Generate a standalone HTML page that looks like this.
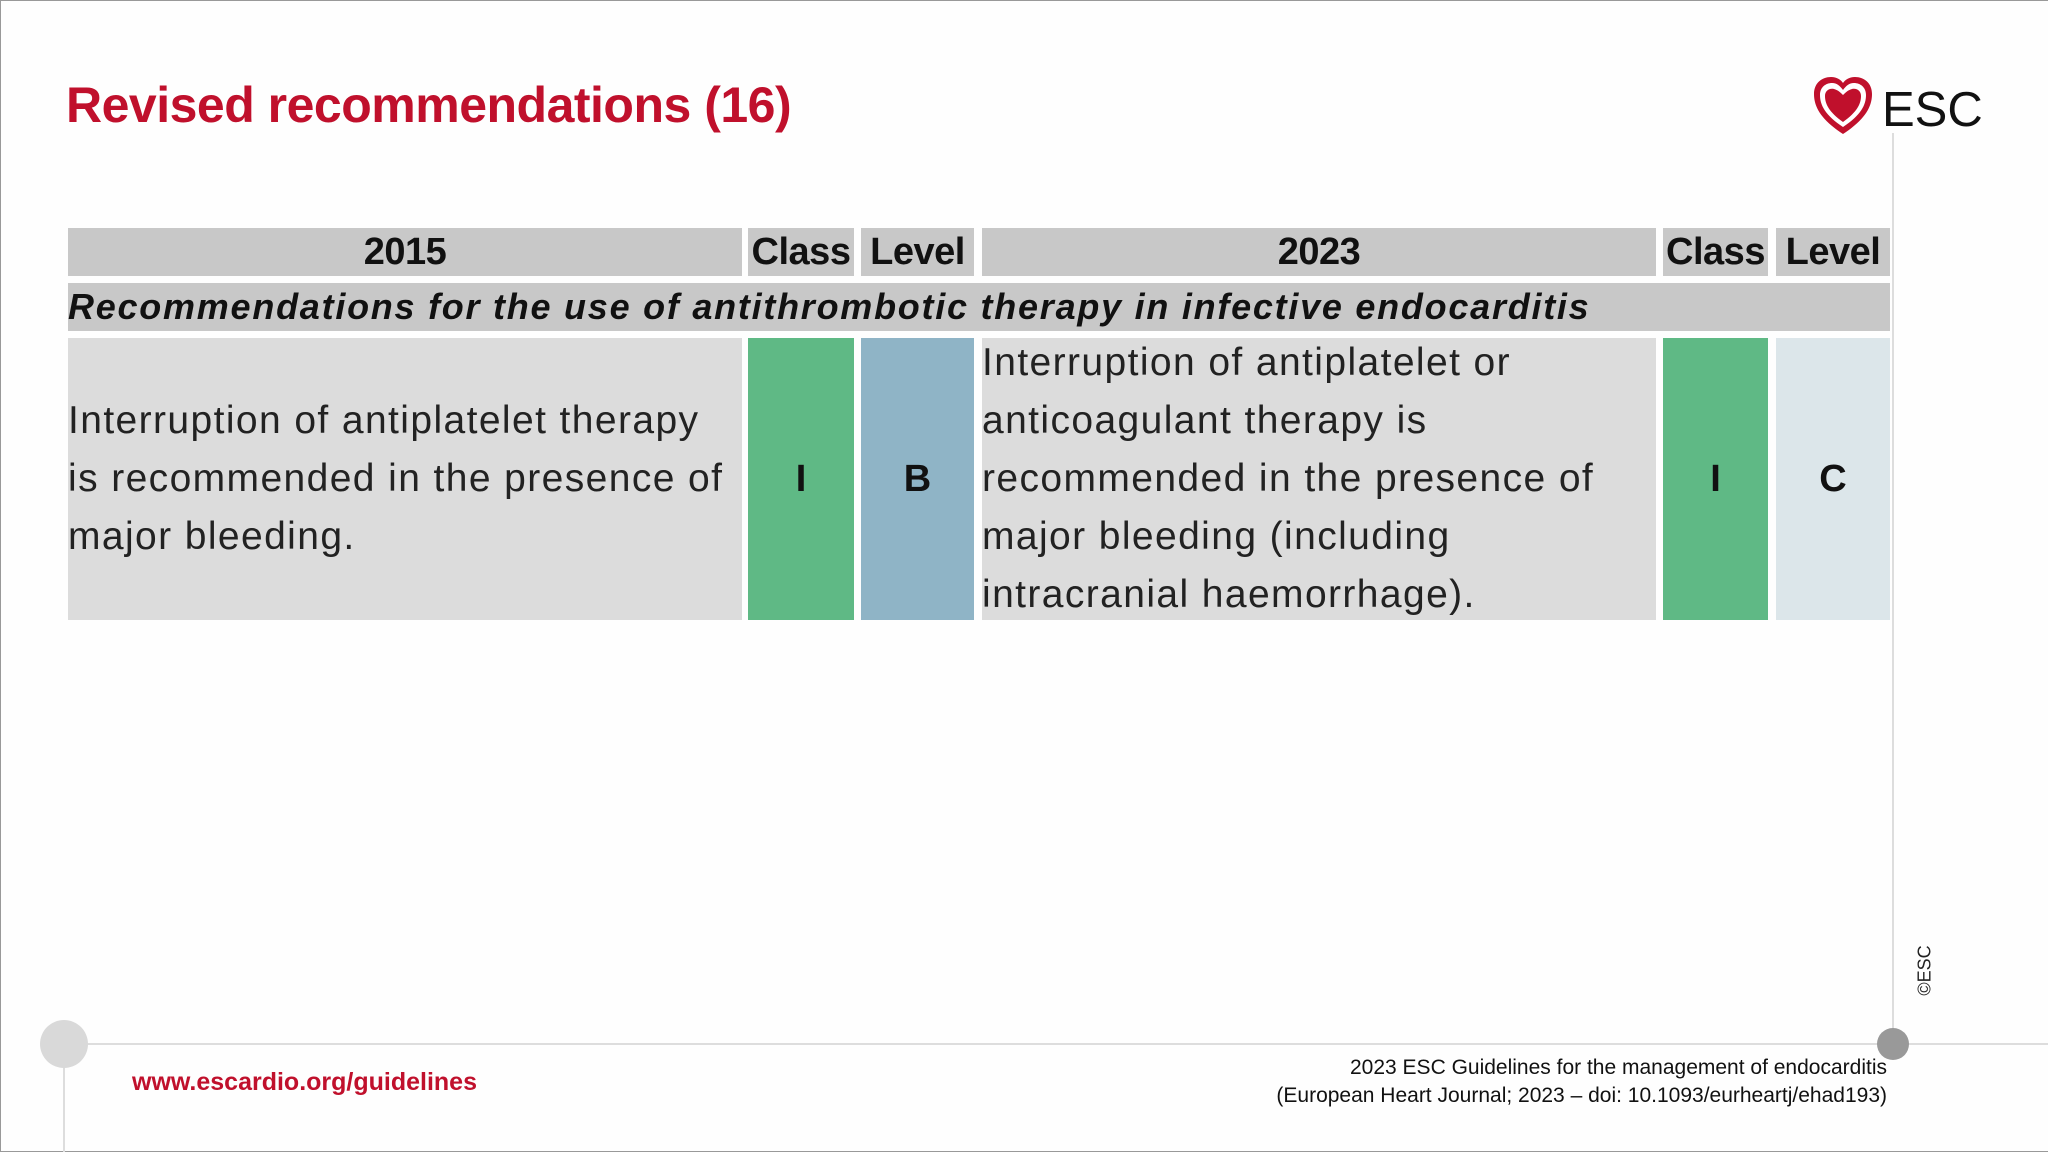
<!DOCTYPE html>
<html><head><meta charset="utf-8">
<style>
*{margin:0;padding:0;box-sizing:border-box}
body{width:2048px;height:1152px;background:#fefefe;position:relative;overflow:hidden;font-family:"Liberation Sans",sans-serif;}
.a{position:absolute}
.c{display:flex;align-items:center;justify-content:center;color:#111;font-weight:bold}
.hd{background:#c8c8c8;font-size:38px;letter-spacing:-0.5px}
.bt{background:#dcdcdc;font-size:39px;line-height:58px;color:#222;letter-spacing:1.4px;white-space:nowrap}
</style></head><body>
<div class="a" style="left:0;top:0;width:2048px;height:1152px;border:1px solid #999;border-right:none"></div>
<div class="a" style="left:66px;top:76px;font-size:50px;font-weight:bold;color:#c0102c;letter-spacing:-0.5px">Revised recommendations (16)</div>
<div class="a" style="left:1810px;top:74px;width:170px;height:66px">
<svg width="66" height="66" viewBox="0 0 66 66" style="position:absolute;left:0;top:0"><path d="M33 60 C10 45 4 32 4 20 C4 9 12 3 21 3 C27 3 31 6 33 9 C35 6 39 3 45 3 C54 3 62 9 62 20 C62 32 56 45 33 60Z" fill="#c0102c"/><path d="M33 53 C15 41 10 31 10 21 C10 13 16 9 22 9 C27 9 30 12 33 16 C36 12 39 9 44 9 C50 9 56 13 56 21 C56 31 51 41 33 53Z" fill="#fff"/><path d="M33 48 C19 38 15 30 15 22 C15 17 19 14 24 15 C28 16 31 19 33 21 C35 19 38 16 42 15 C47 14 51 17 51 22 C51 30 47 38 33 48Z" fill="#c0102c"/></svg>
<div class="a" style="left:72px;top:8px;font-size:49px;color:#111">ESC</div></div>
<div class="a" style="left:1892px;top:133px;width:2px;height:911px;background:#ddd"></div>
<div class="a" style="left:64px;top:1043px;width:1984px;height:2px;background:#ddd"></div>
<div class="a" style="left:63px;top:1044px;width:2px;height:108px;background:#ddd"></div>
<div class="a" style="left:40px;top:1020px;width:48px;height:48px;border-radius:50%;background:#d9d9d9"></div>
<div class="a" style="left:1877px;top:1028px;width:32px;height:32px;border-radius:50%;background:#999"></div>

<div class="a c hd" style="left:68px;top:228px;width:674px;height:48px">2015</div>
<div class="a c hd" style="left:748px;top:228px;width:106px;height:48px">Class</div>
<div class="a c hd" style="left:861px;top:228px;width:113px;height:48px">Level</div>
<div class="a c hd" style="left:982px;top:228px;width:674px;height:48px">2023</div>
<div class="a c hd" style="left:1663px;top:228px;width:105px;height:48px">Class</div>
<div class="a c hd" style="left:1776px;top:228px;width:114px;height:48px">Level</div>
<div class="a hd" style="left:68px;top:283px;width:1822px;height:48px;font-style:italic;font-weight:bold;font-size:36px;line-height:48px;color:#111;letter-spacing:1.75px;white-space:nowrap">Recommendations for the use of antithrombotic therapy in infective endocarditis</div>

<div class="a bt" style="left:68px;top:338px;width:674px;height:282px;display:flex;align-items:center"><div>Interruption of antiplatelet therapy<br>is recommended in the presence of<br>major bleeding.</div></div>
<div class="a c" style="left:748px;top:338px;width:106px;height:282px;background:#5fb985;font-size:38px">I</div>
<div class="a c" style="left:861px;top:338px;width:113px;height:282px;background:#8fb4c6;font-size:38px">B</div>
<div class="a bt" style="left:982px;top:338px;width:674px;height:282px;display:flex;align-items:center"><div>Interruption of antiplatelet or<br>anticoagulant therapy is<br>recommended in the presence of<br>major bleeding (including<br>intracranial haemorrhage).</div></div>
<div class="a c" style="left:1663px;top:338px;width:105px;height:282px;background:#5fb985;font-size:38px">I</div>
<div class="a c" style="left:1776px;top:338px;width:114px;height:282px;background:#dce6ea;font-size:38px">C</div>

<div class="a" style="left:1900px;top:960px;font-size:18px;color:#222;transform:rotate(-90deg);transform-origin:center">©ESC</div>
<div class="a" style="left:132px;top:1068px;font-size:25px;color:#c0102c;font-weight:bold">www.escardio.org/guidelines</div>
<div class="a" style="right:161px;top:1054px;font-size:21px;line-height:28px;color:#111;text-align:right">2023 ESC Guidelines for the management of endocarditis<br>(European Heart Journal; 2023 – doi: 10.1093/eurheartj/ehad193)</div>
</body></html>
